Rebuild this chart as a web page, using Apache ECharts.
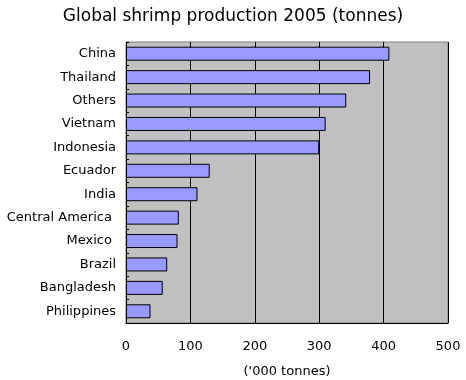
<!DOCTYPE html>
<html><head><meta charset="utf-8">
<script src="https://cdn.jsdelivr.net/npm/echarts@6/dist/echarts.min.js"></script>
<style>html,body{margin:0;padding:0;background:#fff}#c{width:466px;height:380px}</style>
</head><body><div id="c"></div>
<script>
const categories = ["China","Thailand","Others","Vietnam","Indonesia","Ecuador","India","Central America ","Mexico ","Brazil","Bangladesh","Philippines"];
const production = [409,379,342,310,300,130,111,82,80,64,57,38];
const xTicks = [0,100,200,300,400,500];
const FONT = "'DejaVu Sans', Verdana, sans-serif";

const chart = echarts.init(document.getElementById('c'), null, {renderer:'canvas'});
chart.setOption({
  animation:false,
  title:{text:'Global shrimp production 2005 (tonnes)', left:'center', top:3,
    textStyle:{fontFamily:FONT, fontSize:17, fontWeight:'normal', color:'#000'}},
  grid:{left:126, right:18, top:42, bottom:57, show:true, backgroundColor:'#C0C0C0', borderColor:'#808080', borderWidth:1,
    containLabel:false, outerBoundsMode:'none'},
  xAxis:{type:'value', min:xTicks[0], max:xTicks[xTicks.length-1], interval:100,
    name:"('000 tonnes)", nameLocation:'middle', nameGap:42,
    nameTextStyle:{fontFamily:FONT, fontSize:13, color:'#000'},
    axisLine:{show:true, lineStyle:{color:'#000', width:1}},
    axisTick:{show:false},
    axisLabel:{fontFamily:FONT, fontSize:13, color:'#000', margin:17},
    splitLine:{show:true, lineStyle:{color:'#000', width:1}}},
  yAxis:{type:'category', data:categories, inverse:true,
    axisLine:{show:true, lineStyle:{color:'#000', width:1}},
    axisTick:{show:true, inside:true, length:3, lineStyle:{color:'#000'}},
    axisLabel:{fontFamily:FONT, fontSize:13, color:'#000', margin:10}},
  series:[{type:'bar', data:production, barWidth:14,
    itemStyle:{color:'#9999FF', borderColor:'#000', borderWidth:1}}]
});
</script></body></html>
